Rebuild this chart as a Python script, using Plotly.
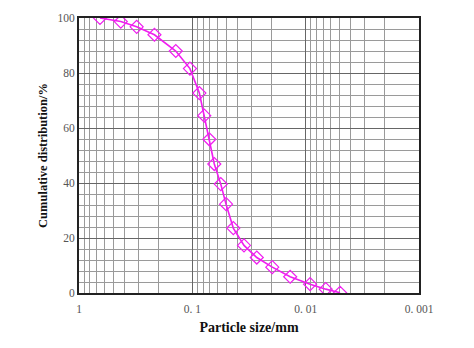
import plotly.graph_objects as go
import numpy as np

# Data
particle_size_mm = [0.653, 0.428, 0.31, 0.216, 0.14, 0.105, 0.0867, 0.0784, 0.0708, 0.064,
                    0.0561, 0.0504, 0.0435, 0.035, 0.027, 0.0197, 0.0137, 0.00914, 0.00665, 0.00497]
cumulative_pct = [100, 98.7, 96.8, 93.9, 88.0, 81.6, 72.7, 64.5, 55.9, 46.9,
                  39.6, 32.3, 23.6, 17.3, 12.9, 9.4, 5.9, 3.2, 1.4, 0.1]

x_tickvals = [1, 0.1, 0.01, 0.001]
x_ticktext = ["1", "0. 1", "0. 01", "0. 001"]
y_tickvals = [0, 20, 40, 60, 80, 100]

x_minor = [m * 10.0 ** e for e in (-1, -2, -3) for m in range(2, 10)]

fig = go.Figure()
fig.add_trace(go.Scatter(
    x=particle_size_mm, y=cumulative_pct, mode="lines+markers",
    line=dict(color="#f01ef0", width=1.6),
    marker=dict(symbol="diamond-open", size=10, color="#f01ef0", line=dict(width=1.2)),
    showlegend=False,
))

serif = "Liberation Serif, Times New Roman, serif"
fig.update_layout(
    width=474, height=348,
    margin=dict(l=79, r=55, t=18, b=55),
    paper_bgcolor="white", plot_bgcolor="white",
    font=dict(family=serif, color="#333"),
    xaxis=dict(
        type="log", range=[0, -3],
        tickmode="array", tickvals=x_tickvals, ticktext=x_ticktext,
        tickfont=dict(size=11.5, color="#555"),
        ticklabelstandoff=4,
        showgrid=True, gridcolor="#666", gridwidth=1,
        minor=dict(tickmode="array", tickvals=x_minor, showgrid=True, gridcolor="#9a9a9a", gridwidth=1, ticks=""),
        showline=True, linecolor="#222", linewidth=2, mirror=True,
        ticks="", ticklen=0,
        title=dict(text="<b>Particle size/mm</b>", font=dict(size=14, color="#111"), standoff=8),
        zeroline=False,
    ),
    yaxis=dict(
        range=[0, 100],
        tickmode="array", tickvals=y_tickvals,
        tickfont=dict(size=11.5, color="#555"),
        showgrid=True, gridcolor="#666", gridwidth=1,
        minor=dict(dtick=4, showgrid=True, gridcolor="#9a9a9a", gridwidth=1, ticks=""),
        showline=True, linecolor="#222", linewidth=2, mirror=True,
        ticks="", ticklen=0,
        title=dict(text="<b>Cumulative distribution/%</b>", font=dict(size=12.5, color="#111"), standoff=7),
        zeroline=False,
    ),
)

fig.write_html("out.html")
